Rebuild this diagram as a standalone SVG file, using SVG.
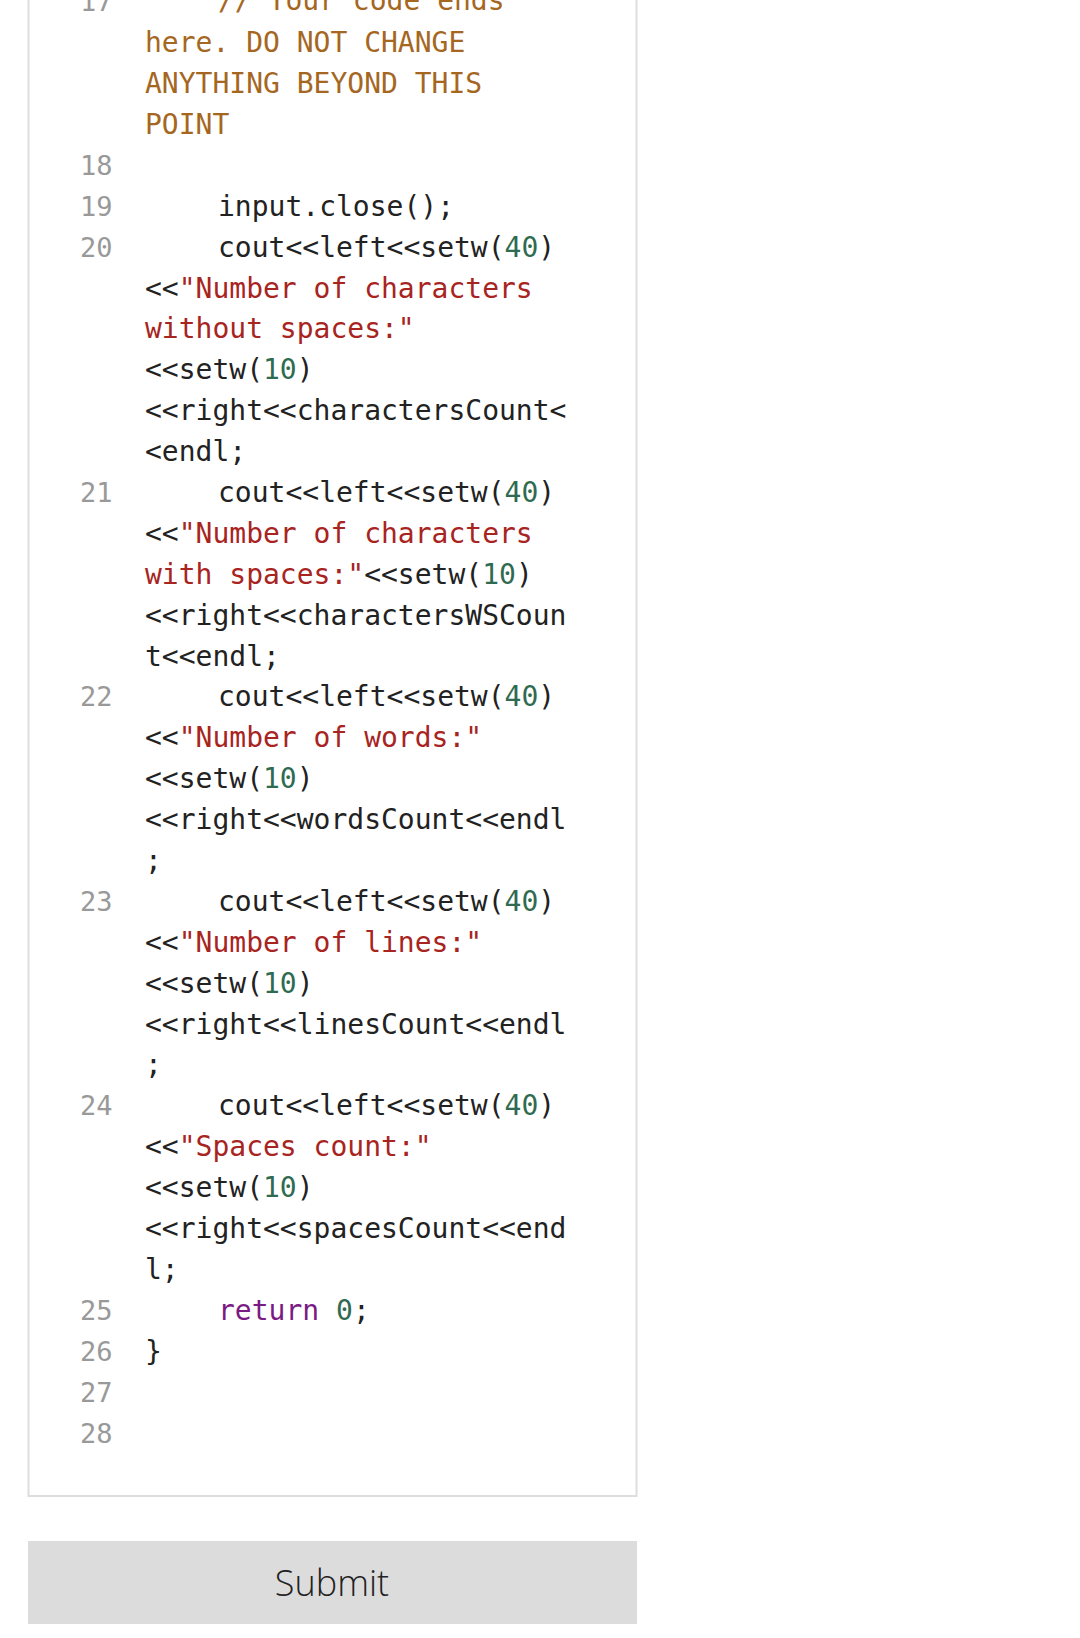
<svg xmlns="http://www.w3.org/2000/svg" width="1080" height="1638" viewBox="0 0 1080 1638">
<style>
.c{font-family:"DejaVu Sans Mono","Liberation Mono",monospace;font-size:28px;fill:#222;white-space:pre}
.n{font-family:"DejaVu Sans Mono","Liberation Mono",monospace;font-size:27px;fill:#999}
.cm{fill:#a5671f}.s{fill:#a8241f}.d{fill:#2f6b50}.k{fill:#7a1a85}
</style>
<rect width="1080" height="1638" fill="#fff"/>
<g id="editor">
<rect x="28.5" y="-5" width="608" height="1501" fill="#fff" stroke="#ddd" stroke-width="2"/>
<g id="linenumbers">
<text class="n" x="80" y="11">17</text>
<text class="n" x="80" y="175">18</text>
<text class="n" x="80" y="216">19</text>
<text class="n" x="80" y="257">20</text>
<text class="n" x="80" y="502">21</text>
<text class="n" x="80" y="706">22</text>
<text class="n" x="80" y="911">23</text>
<text class="n" x="80" y="1115">24</text>
<text class="n" x="80" y="1320">25</text>
<text class="n" x="80" y="1361">26</text>
<text class="n" x="80" y="1402">27</text>
<text class="n" x="80" y="1443">28</text>
</g>
<g id="code">
<text class="c cm" x="218" y="10">// Your code ends</text>
<text class="c cm" x="145" y="52">here. DO NOT CHANGE</text>
<text class="c cm" x="145" y="93">ANYTHING BEYOND THIS</text>
<text class="c cm" x="145" y="134">POINT</text>
<text class="c" x="218" y="216">input.close();</text>
<text class="c" x="218" y="257">cout&lt;&lt;left&lt;&lt;setw(<tspan class="d">40</tspan>)</text>
<text class="c" x="145" y="298">&lt;&lt;<tspan class="s">"Number of characters</tspan></text>
<text class="c" x="145" y="338"><tspan class="s">without spaces:"</tspan></text>
<text class="c" x="145" y="379">&lt;&lt;setw(<tspan class="d">10</tspan>)</text>
<text class="c" x="145" y="420">&lt;&lt;right&lt;&lt;charactersCount&lt;</text>
<text class="c" x="145" y="461">&lt;endl;</text>
<text class="c" x="218" y="502">cout&lt;&lt;left&lt;&lt;setw(<tspan class="d">40</tspan>)</text>
<text class="c" x="145" y="543">&lt;&lt;<tspan class="s">"Number of characters</tspan></text>
<text class="c" x="145" y="584"><tspan class="s">with spaces:"</tspan>&lt;&lt;setw(<tspan class="d">10</tspan>)</text>
<text class="c" x="145" y="625">&lt;&lt;right&lt;&lt;charactersWSCoun</text>
<text class="c" x="145" y="666">t&lt;&lt;endl;</text>
<text class="c" x="218" y="706">cout&lt;&lt;left&lt;&lt;setw(<tspan class="d">40</tspan>)</text>
<text class="c" x="145" y="747">&lt;&lt;<tspan class="s">"Number of words:"</tspan></text>
<text class="c" x="145" y="788">&lt;&lt;setw(<tspan class="d">10</tspan>)</text>
<text class="c" x="145" y="829">&lt;&lt;right&lt;&lt;wordsCount&lt;&lt;endl</text>
<text class="c" x="145" y="870">;</text>
<text class="c" x="218" y="911">cout&lt;&lt;left&lt;&lt;setw(<tspan class="d">40</tspan>)</text>
<text class="c" x="145" y="952">&lt;&lt;<tspan class="s">"Number of lines:"</tspan></text>
<text class="c" x="145" y="993">&lt;&lt;setw(<tspan class="d">10</tspan>)</text>
<text class="c" x="145" y="1034">&lt;&lt;right&lt;&lt;linesCount&lt;&lt;endl</text>
<text class="c" x="145" y="1074">;</text>
<text class="c" x="218" y="1115">cout&lt;&lt;left&lt;&lt;setw(<tspan class="d">40</tspan>)</text>
<text class="c" x="145" y="1156">&lt;&lt;<tspan class="s">"Spaces count:"</tspan></text>
<text class="c" x="145" y="1197">&lt;&lt;setw(<tspan class="d">10</tspan>)</text>
<text class="c" x="145" y="1238">&lt;&lt;right&lt;&lt;spacesCount&lt;&lt;end</text>
<text class="c" x="145" y="1279">l;</text>
<text class="c" x="218" y="1320"><tspan class="k">return</tspan> <tspan class="d">0</tspan>;</text>
<text class="c" x="145" y="1361">}</text>
</g>
</g>
<g id="submit">
<rect x="28" y="1541" width="609" height="83" fill="#dcdcdc"/>
<text x="332" y="1596" text-anchor="middle" font-family="'Open Sans','Noto Sans',sans-serif" font-weight="300" font-size="36" fill="#222">Submit</text>
</g>
</svg>
